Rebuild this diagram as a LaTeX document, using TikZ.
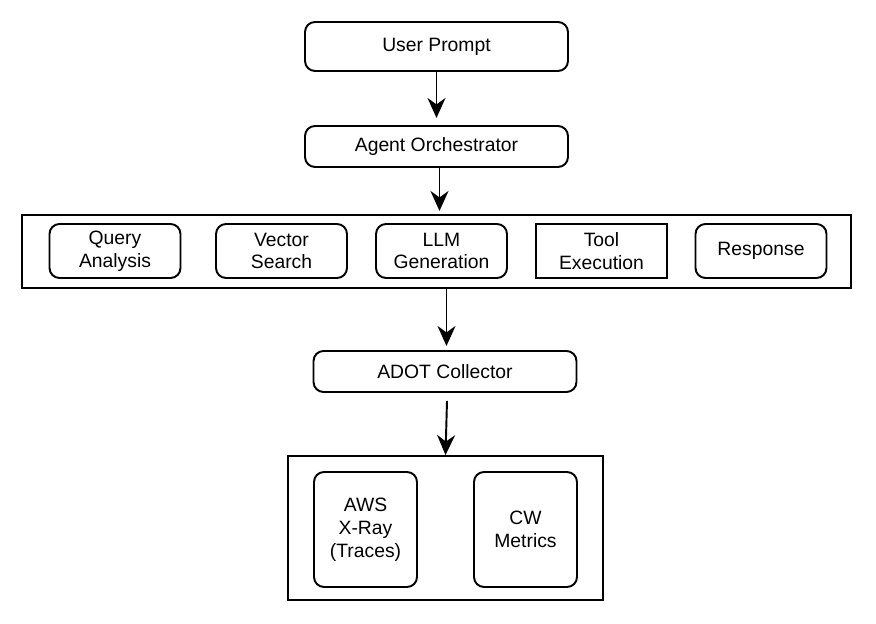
\documentclass[tikz,border=0pt]{standalone}
\usepackage{fontspec}
\setmainfont{Liberation Sans}
\usetikzlibrary{arrows.meta}
\begin{document}
\begin{tikzpicture}
[
 x=0.02cm, y=-0.02cm,
 line width=1.1pt,
 >={Stealth[length=4mm,width=3.6mm]},
 align=center,
 inner sep=0pt,
 font=\fontsize{11}{13}\selectfont,
 box/.style={draw=black,rectangle,rounded corners=2mm,minimum width=5.26cm,minimum height=0.9cm},
 stage/.style={draw=black,rectangle,rounded corners=2mm,minimum width=2.62cm,minimum height=1.08cm},
 frame/.style={draw=black,rectangle}
]
\useasboundingbox (0,0) rectangle (876,624);
\node (prompt) [box,minimum height=0.98cm] at (436.5,46.5) {User Prompt};
\node (orch) [box,minimum height=0.82cm] at (436.5,146.5) {Agent Orchestrator};
\node (stages) [frame,minimum width=16.58cm,minimum height=1.46cm] at (436.5,251.5) {};
\node (query) [stage] at (115,251) {Query\\Analysis};
\node (vector) [stage] at (281.5,251) {Vector\\Search};
\node (llm) [stage] at (441.5,251) {LLM\\Generation};
\node (tool) [stage,rounded corners=0pt] at (601.5,251) {Tool\\Execution};
\node (resp) [stage] at (761,251) {Response};
\node (adot) [box,minimum height=0.82cm] at (445,371.5) {ADOT Collector};
\node (sinks) [frame,minimum width=6.3cm,minimum height=2.88cm] at (445.5,528) {};
\node (xray) [stage,minimum width=2.06cm,minimum height=2.3cm] at (365.5,529.5) {AWS\\X-Ray\\(Traces)};
\node (cw) [stage,minimum width=2.06cm,minimum height=2.3cm] at (525.5,529.5) {CW\\Metrics};
\draw[->] (prompt.south) -- ++(0,46);
\draw[->] ([xshift=0.06cm]orch.south) -- ++(0,43);
\draw[->] ([xshift=0.2cm]stages.south) -- ++(0,57);
\draw[->] ([xshift=0.04cm]adot.south) ++(0,8) -- (sinks.north);
\end{tikzpicture}
\end{document}
